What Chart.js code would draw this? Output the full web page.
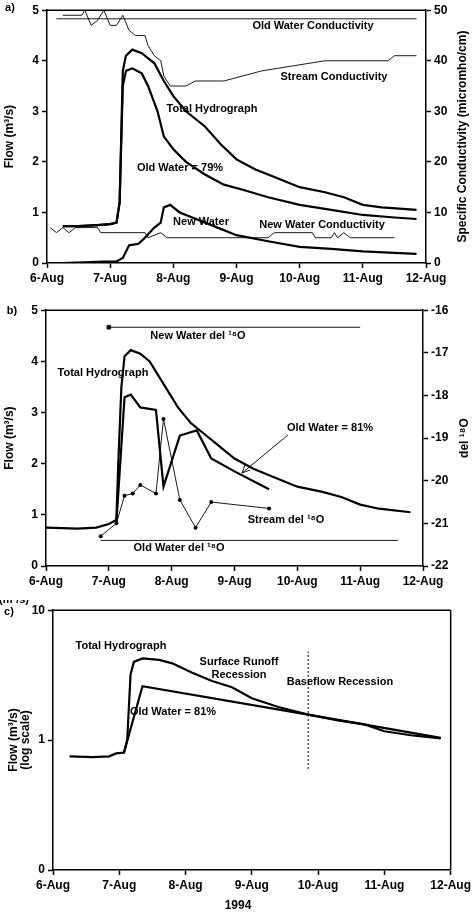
<!DOCTYPE html>
<html>
<head>
<meta charset="utf-8">
<script src="https://cdn.jsdelivr.net/npm/chart.js@4"></script>
<style>
  body { margin: 0; background: #fff; }
  .panel { position: absolute; left: 0; width: 474px; }
</style>
</head>
<body>
<div class="panel" style="top:0;height:292px"><canvas id="chartA"></canvas></div>
<div class="panel" style="top:300px;height:292px"><canvas id="chartB"></canvas></div>
<div class="panel" style="top:600px;height:312px"><canvas id="chartC"></canvas></div>
<script>
// x values are days of August 1994
const xTicks = [6, 7, 8, 9, 10, 11, 12];

// panel a
const aTotalX = [6.25, 6.5, 6.8, 7.0, 7.1, 7.15, 7.2, 7.25, 7.35, 7.5, 7.7, 7.85, 8.0, 8.2, 8.5, 8.75, 9.0, 9.3, 9.6, 10.0, 10.4, 10.7, 11.0, 11.3, 11.85];
const aTotalY = [0.73, 0.73, 0.75, 0.77, 0.8, 1.2, 3.8, 4.1, 4.22, 4.15, 3.95, 3.6, 3.3, 3.0, 2.7, 2.35, 2.05, 1.85, 1.7, 1.5, 1.4, 1.3, 1.15, 1.1, 1.05];
const aOldX = [6.25, 6.5, 6.8, 7.0, 7.1, 7.15, 7.2, 7.25, 7.35, 7.5, 7.6, 7.75, 7.85, 8.0, 8.2, 8.5, 8.8, 9.1, 9.5, 10.0, 10.5, 11.0, 11.5, 11.85];
const aOldY = [0.73, 0.73, 0.75, 0.77, 0.8, 1.2, 3.5, 3.8, 3.85, 3.75, 3.5, 3.0, 2.5, 2.25, 2.0, 1.75, 1.55, 1.45, 1.3, 1.15, 1.05, 0.95, 0.9, 0.87];
const aNewX = [6.25, 6.9, 7.1, 7.2, 7.3, 7.45, 7.55, 7.7, 7.8, 7.85, 7.95, 8.1, 8.2, 8.7, 9.0, 9.5, 10.0, 10.5, 11.0, 11.5, 11.85];
const aNewY = [0, 0.03, 0.03, 0.1, 0.35, 0.38, 0.5, 0.7, 0.8, 1.1, 1.15, 1.0, 0.95, 0.7, 0.55, 0.43, 0.32, 0.28, 0.23, 0.2, 0.18];
const aStreamCondX = [6.25, 6.55, 6.6, 6.7, 6.8, 6.9, 7.0, 7.1, 7.2, 7.3, 7.4, 7.55, 7.6, 7.7, 7.8, 7.85, 7.95, 8.2, 8.35, 8.8, 9.1, 9.4, 9.9, 10.4, 11.4, 11.5, 11.85];
const aStreamCondY = [49, 49, 50, 47, 48, 50, 47, 47, 49, 46, 45, 45, 43, 41, 40, 37, 35, 35, 36, 36, 37, 38, 39, 40, 40, 41, 41];
const aOldCondX = [6.15, 11.85];
const aOldCondY = [48.3, 48.3];
const aNewCondX = [6.05, 6.15, 6.25, 6.35, 6.45, 6.8, 6.85, 7.55, 7.6, 7.8, 7.9, 9.5, 9.6, 10.2, 10.25, 10.5, 10.55, 10.6, 10.7, 10.8, 11.5];
const aNewCondY = [7, 6, 7, 6, 7, 7, 6, 6, 5, 6, 5, 5, 6, 6, 5, 5, 6, 5, 6, 5, 5];

// panel b
const bTotalX = [6.0, 6.5, 6.8, 7.0, 7.12, 7.15, 7.2, 7.25, 7.35, 7.5, 7.65, 7.85, 8.1, 8.3, 8.5, 8.8, 9.0, 9.3, 9.6, 10.0, 10.4, 10.7, 11.0, 11.3, 11.8];
const bTotalY = [0.75, 0.73, 0.75, 0.82, 0.9, 2.0, 3.5, 4.1, 4.22, 4.15, 4.0, 3.6, 3.1, 2.8, 2.6, 2.3, 2.1, 1.9, 1.75, 1.55, 1.45, 1.35, 1.2, 1.12, 1.05];
const bOldX = [7.12, 7.25, 7.35, 7.5, 7.75, 7.87, 8.13, 8.4, 8.63, 9.0, 9.55];
const bOldY = [0.85, 3.3, 3.35, 3.1, 3.05, 1.55, 2.55, 2.65, 2.1, 1.85, 1.5];
const bStreamOX = [6.87, 7.12, 7.25, 7.38, 7.5, 7.75, 7.87, 8.13, 8.38, 8.63, 9.55];
const bStreamOY = [-21.3, -21.0, -20.35, -20.3, -20.1, -20.3, -18.55, -20.45, -21.1, -20.5, -20.65];
const bNewOX = [7.0, 11.0];
const bNewOY = [-16.4, -16.4];
const bOldOX = [6.87, 11.6];
const bOldOY = [-21.4, -21.4];

// panel c (log scale)
const cTotalX = [6.25, 6.6, 6.85, 6.95, 7.07, 7.12, 7.17, 7.22, 7.35, 7.6, 7.8, 8.1, 8.4, 8.7, 9.0, 9.4, 9.85, 10.3, 10.7, 11.0, 11.4, 11.85];
const cTotalY = [0.75, 0.74, 0.75, 0.79, 0.8, 1.0, 3.2, 4.0, 4.25, 4.15, 3.9, 3.3, 2.85, 2.55, 2.1, 1.8, 1.57, 1.42, 1.32, 1.17, 1.09, 1.03];
const cOldX = [7.07, 7.35, 9.85, 11.85];
const cOldY = [0.8, 2.6, 1.57, 1.04];
const cSplitX = [9.85, 9.85];
const cSplitY = [0.6, 4.8];

const FONT = "'Liberation Sans', Arial, sans-serif";

function pts(xs, ys) {
  return xs.map(function (x, i) { return { x: x, y: ys[i] }; });
}

function line(xs, ys, width, axis, extra) {
  return Object.assign({
    data: pts(xs, ys), borderColor: '#000', borderWidth: width,
    pointRadius: 0, tension: 0, yAxisID: axis || 'y', fill: false
  }, extra || {});
}

function xAxis(height) {
  return {
    type: 'linear', min: 6, max: 12,
    afterBuildTicks: function (s) { s.ticks = xTicks.map(function (v) { return { value: v }; }); },
    afterFit: function (s) { s.height = height; },
    grid: { drawOnChartArea: false, color: '#000', tickLength: 5, tickWidth: 1.5 },
    border: { color: '#000', width: 1.5 },
    ticks: { color: '#000', font: { family: FONT, size: 12, weight: 'bold' }, maxRotation: 0,
      callback: function (v) { return v + '-Aug'; } }
  };
}

function yAxis(pos, width, min, max, step, title) {
  var ax = {
    position: pos, min: min, max: max,
    afterFit: function (s) { s.width = width; },
    grid: { drawOnChartArea: false, color: '#000', tickLength: 5, tickWidth: 1.5 },
    border: { color: '#000', width: 1.5 },
    ticks: { color: '#000', stepSize: step, font: { family: FONT, size: 12, weight: 'bold' } }
  };
  if (title) ax.title = { display: true, text: title, color: '#000', padding: 2,
    font: { family: FONT, size: 12, weight: 'bold' } };
  return ax;
}

// labels, frame, right-axis title, arrows
function decor(labels, rightTitle, extra) {
  return {
    id: 'decor',
    afterDraw: function (chart) {
      var c = chart.ctx, a = chart.chartArea;
      c.save();
      c.strokeStyle = '#000';
      c.lineWidth = 1.5;
      c.beginPath();
      c.moveTo(a.left, a.top); c.lineTo(a.right, a.top);
      c.stroke();
      c.fillStyle = '#000';
      c.font = 'bold 11px ' + FONT;
      c.textAlign = 'center';
      c.textBaseline = 'middle';
      labels.forEach(function (l) {
        c.font = 'bold ' + (l[3] || 11) + 'px ' + FONT;
        c.fillText(l[0], l[1], l[2]);
      });
      if (rightTitle) {
        c.translate(rightTitle[1], (a.top + a.bottom) / 2);
        c.rotate(-Math.PI / 2);
        c.font = 'bold 12px ' + FONT;
        c.fillText(rightTitle[0], 0, 0);
      }
      c.restore();
      if (extra) extra(chart);
    }
  };
}

function baseOpts(padTop, scales) {
  return {
    responsive: true, maintainAspectRatio: false, animation: false,
    layout: { padding: { top: padTop, left: 0, right: 0, bottom: 0 } },
    plugins: { legend: { display: false }, tooltip: { enabled: false } },
    scales: scales
  };
}

new Chart(document.getElementById('chartA'), {
  type: 'line',
  data: { datasets: [
    line(aTotalX, aTotalY, 2.2),
    line(aOldX, aOldY, 2.2),
    line(aNewX, aNewY, 2.2),
    line(aStreamCondX, aStreamCondY, 0.9, 'y1', { stepped: false }),
    line(aOldCondX, aOldCondY, 0.9, 'y1'),
    line(aNewCondX, aNewCondY, 0.9, 'y1')
  ] },
  options: baseOpts(7, {
    x: xAxis(29),
    y: yAxis('left', 47, 0, 5, 1, 'Flow (m³/s)'),
    y1: yAxis('right', 48, 0, 50, 10, null)
  }),
  plugins: [decor([
    ['a)', 10, 8], ['Old Water Conductivity', 313, 26], ['Stream Conductivity', 334, 77],
    ['Total Hydrograph', 212, 109], ['Old Water = 79%', 180, 168], ['New Water', 201, 222],
    ['New Water Conductivity', 322, 225]
  ], ['Specific Conductivity (micromho/cm)', 463])]
});

new Chart(document.getElementById('chartB'), {
  type: 'line',
  data: { datasets: [
    line(bTotalX, bTotalY, 2.2),
    line(bOldX, bOldY, 2.2),
    line(bStreamOX, bStreamOY, 0.9, 'y1', { pointRadius: 2, pointBackgroundColor: '#000', pointBorderWidth: 0 }),
    line(bNewOX, bNewOY, 0.9, 'y1', { pointRadius: [2.5, 0], pointStyle: 'rect', pointBackgroundColor: '#000' }),
    line(bOldOX, bOldOY, 0.9, 'y1')
  ] },
  options: baseOpts(10, {
    x: xAxis(26),
    y: yAxis('left', 46, 0, 5, 1, 'Flow (m³/s)'),
    y1: yAxis('right', 51, -22, -16, 1, null)
  }),
  plugins: [decor([
    ['b)', 12, 11], ['New Water del ¹⁸O', 198, 36], ['Total Hydrograph', 103, 73],
    ['Old Water = 81%', 330, 128], ['Stream del ¹⁸O', 286, 220], ['Old Water del ¹⁸O', 179, 248]
  ], ['del ¹⁸O', 465], function (chart) {
    var c = chart.ctx;
    c.save();
    c.strokeStyle = '#000'; c.lineWidth = 0.9;
    c.beginPath(); c.moveTo(288, 135); c.lineTo(242, 173);
    c.moveTo(242, 173); c.lineTo(250, 170);
    c.moveTo(242, 173); c.lineTo(245, 165);
    c.stroke();
    c.restore();
  })]
});

new Chart(document.getElementById('chartC'), {
  type: 'line',
  data: { datasets: [
    line(cTotalX, cTotalY, 2.2),
    line(cOldX, cOldY, 2.2),
    line(cSplitX, cSplitY, 1, 'y', { borderDash: [2, 2] })
  ] },
  options: baseOpts(10, {
    x: xAxis(42),
    y: Object.assign(yAxis('left', 53, 0.1, 10, null, null), {
      type: 'logarithmic',
      afterBuildTicks: function (s) { s.ticks = [{ value: 0.1 }, { value: 1 }, { value: 10 }]; },
      ticks: { color: '#000', font: { family: FONT, size: 12, weight: 'bold' },
        callback: function (v) { return v === 0.1 ? '0' : String(v); } }
    })
  }),
  plugins: [decor([
    ['c)', 9, 12], ['Total Hydrograph', 121, 46], ['Surface Runoff', 239, 62], ['Recession', 239, 75],
    ['Baseflow Recession', 340, 82], ['Old Water = 81%', 173, 112], ['1994', 238, 306, 12],
    ['Flow (m³/s)', 0, 0, 0]
  ], null, function (chart) {
    var c = chart.ctx, a = chart.chartArea;
    c.save();
    c.strokeStyle = '#000'; c.lineWidth = 1.5;
    c.beginPath(); c.moveTo(a.right, a.top); c.lineTo(a.right, a.bottom); c.stroke();
    c.fillStyle = '#000';
    c.font = 'bold 12px ' + FONT;
    c.textAlign = 'center'; c.textBaseline = 'middle';
    c.translate(14, 140); c.rotate(-Math.PI / 2);
    c.fillText('Flow (m³/s)', 0, 0);
    c.fillText('(log scale)', 0, 12);
    c.restore();
  })]
});
</script>
</body>
</html>
